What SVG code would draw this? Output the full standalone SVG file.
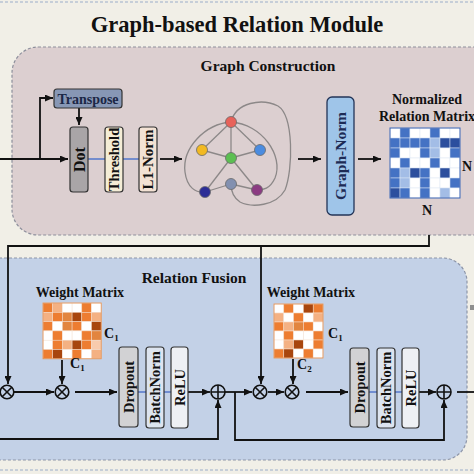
<svg xmlns="http://www.w3.org/2000/svg" width="474" height="474" viewBox="0 0 474 474">
<defs>
<marker id="ar" markerUnits="userSpaceOnUse" markerWidth="8" markerHeight="7" refX="8" refY="3.5" orient="auto"><path d="M0,0 L8,3.5 L0,7 z" fill="#111"/></marker>
<style>
text{font-family:"Liberation Serif","Times New Roman",serif;font-weight:bold;fill:#111}
.ln{stroke:#111;stroke-width:1.8;fill:none}
.la{stroke:#111;stroke-width:1.8;fill:none;marker-end:url(#ar)}
.bl{stroke:#5b7ccc;stroke-width:1.6}
.box{stroke:#333;stroke-width:1.2}
.ge{stroke:#8c8888;stroke-width:1.3;fill:none}
.nd{stroke:#6a6a6a;stroke-width:0.8}
.op{fill:none;stroke:#111;stroke-width:1.6}
.w{fill:#ffffff}.b{fill:#4472c4}.lb{fill:#a3bde6}.db{fill:#2c4f9e}
.o{fill:#ed7d31}.lo{fill:#f4b183}.po{fill:#f8cbad}.do{fill:#a8460e}.mo{fill:#e2853f}
.mb rect{stroke:#dce6f4;stroke-width:0.5}
.mo2 rect{stroke:#f7e2d2;stroke-width:0.5}
</style>
</defs>
<rect x="0" y="0" width="474" height="474" fill="#f1efe7"/>
<line x1="0" y1="2" x2="474" y2="2" stroke="#b8c4d4" stroke-width="1.5" stroke-dasharray="3 2"/>
<line x1="0" y1="470" x2="474" y2="470" stroke="#b8c4d4" stroke-width="1.5" stroke-dasharray="3 2"/>
<rect x="470" y="305" width="4" height="5" fill="#8f8f8f"/>

<text x="237" y="32" font-size="22.5" text-anchor="middle">Graph-based Relation Module</text>

<g id="graph-construction">
<rect x="12" y="47" width="500" height="188" rx="26" fill="#dccfd0" stroke="#8d8f9c" stroke-width="1.2" stroke-dasharray="3 2"/>
<text x="268" y="71" font-size="15.5" text-anchor="middle">Graph Construction</text>
</g>

<g id="relation-fusion">
<rect x="-40" y="258" width="507" height="202" rx="24" fill="#c3d1e7" stroke="#8d95a8" stroke-width="1.2" stroke-dasharray="3 2"/>
<text x="194" y="283" font-size="15.5" text-anchor="middle">Relation Fusion</text>
</g>

<g id="connectors">
<line x1="0" y1="159" x2="68" y2="159" class="la"/>
<polyline points="40,159 40,98 53,98" class="la"/>
<line x1="79" y1="108" x2="79" y2="125" class="la"/>
<line x1="88" y1="159" x2="105" y2="159" class="bl"/>
<line x1="123" y1="159" x2="139" y2="159" class="bl"/>
<line x1="160" y1="159" x2="182" y2="159" class="la"/>
<line x1="298" y1="159" x2="321" y2="159" class="la"/>
<line x1="358" y1="159" x2="381" y2="159" class="la"/>
<polyline points="429,235 429,246 8,246 8,384" class="la"/>
<line x1="261" y1="246" x2="261" y2="384" class="la"/>
<line x1="14" y1="392" x2="54" y2="392" class="la"/>
<line x1="62" y1="360" x2="62" y2="384" class="la"/>
<line x1="75" y1="392" x2="117" y2="392" class="la"/>
<line x1="138" y1="392" x2="146" y2="392" class="bl"/>
<line x1="164" y1="392" x2="171" y2="392" class="bl"/>
<line x1="188" y1="392" x2="210" y2="392" class="la"/>
<polyline points="0,439 218,439 218,400" class="la"/>
<polyline points="225,392 235,392" class="ln"/>
<line x1="235" y1="392" x2="252" y2="392" class="la"/>
<polyline points="235,392 235,440 444,440 444,400" class="la"/>
<line x1="268" y1="392" x2="284" y2="392" class="la"/>
<line x1="293" y1="359" x2="293" y2="384" class="la"/>
<line x1="306" y1="392" x2="348" y2="392" class="la"/>
<line x1="369" y1="392" x2="377" y2="392" class="bl"/>
<line x1="395" y1="392" x2="402" y2="392" class="bl"/>
<line x1="419" y1="392" x2="436" y2="392" class="la"/>
<line x1="457" y1="392" x2="474" y2="392" class="ln"/>
</g>

<g id="transpose">
<rect x="54" y="89" width="68" height="19" rx="3" fill="#8797b5" class="box"/>
<text x="88" y="103.5" font-size="14" text-anchor="middle" style="fill:#1b2746">Transpose</text>
</g>
<g id="dot">
<rect x="70" y="127" width="18" height="65" rx="3" fill="#a9a5a7" class="box"/>
<text transform="translate(79,159.5) rotate(-90)" font-size="16" text-anchor="middle" dy="0.35em">Dot</text>
</g>
<g id="threshold">
<rect x="105" y="127" width="18" height="65" rx="3" fill="#f4edd6" class="box"/>
<text transform="translate(114,159.5) rotate(-90)" font-size="14.5" text-anchor="middle" dy="0.35em">Threshold</text>
</g>
<g id="l1norm">
<rect x="139" y="127" width="18" height="65" rx="3" fill="#f3e2d4" class="box"/>
<text transform="translate(148,159.5) rotate(-90)" font-size="15" text-anchor="middle" dy="0.35em">L1-Norm</text>
</g>

<g id="graph">
<path class="ge" d="M231,122 C205,124 182,148 185,172 C187,188 196,193 205,192"/>
<path class="ge" d="M231,122 C262,124 284,156 275,178 C270,189 263,190 257,190"/>
<path class="ge" d="M231,122 C236,102 262,98 278,106 C294,116 293,170 285,190 C276,206 252,208 240,202 C234,198 231,192 231,184"/>
<line class="ge" x1="231" y1="122" x2="202" y2="150"/>
<line class="ge" x1="231" y1="122" x2="231" y2="158"/>
<line class="ge" x1="231" y1="122" x2="260" y2="150"/>
<line class="ge" x1="202" y1="150" x2="231" y2="158"/>
<line class="ge" x1="231" y1="158" x2="260" y2="150"/>
<line class="ge" x1="231" y1="158" x2="205" y2="192"/>
<line class="ge" x1="231" y1="158" x2="257" y2="190"/>
<line class="ge" x1="205" y1="192" x2="231" y2="184"/>
<line class="ge" x1="231" y1="184" x2="257" y2="190"/>
<circle class="nd" cx="231" cy="122" r="5.5" fill="#e8625a"/>
<circle class="nd" cx="202" cy="150" r="5.5" fill="#f2b922"/>
<circle class="nd" cx="231" cy="158" r="5.5" fill="#5cbf52"/>
<circle class="nd" cx="260" cy="150" r="5.5" fill="#4b8ce0"/>
<circle class="nd" cx="205" cy="192" r="5.5" fill="#2c2d96"/>
<circle class="nd" cx="231" cy="184" r="5.5" fill="#8290b0"/>
<circle class="nd" cx="257" cy="190" r="5.5" fill="#8b3b82"/>
</g>

<g id="graphnorm">
<rect x="327" y="97" width="27" height="118" rx="5" fill="#9fc5e9" stroke="#233457" stroke-width="1.3"/>
<text transform="translate(340.5,156) rotate(-90)" font-size="15.5" text-anchor="middle" dy="0.35em" style="fill:#1d2b55">Graph-Norm</text>
</g>

<g id="relation-matrix">
<text x="427" y="104" font-size="14" text-anchor="middle">Normalized</text>
<text x="427" y="121" font-size="14" text-anchor="middle">Relation Matrix</text>
<g class="mb">
<rect x="390" y="128" width="10" height="10" class="w"/><rect x="400" y="128" width="10" height="10" class="b"/><rect x="410" y="128" width="10" height="10" class="w"/><rect x="420" y="128" width="10" height="10" class="w"/><rect x="430" y="128" width="10" height="10" class="b"/><rect x="440" y="128" width="10" height="10" class="w"/><rect x="450" y="128" width="10" height="10" class="w"/>
<rect x="390" y="138" width="10" height="10" class="b"/><rect x="400" y="138" width="10" height="10" class="b"/><rect x="410" y="138" width="10" height="10" class="b"/><rect x="420" y="138" width="10" height="10" class="b"/><rect x="430" y="138" width="10" height="10" class="lb"/><rect x="440" y="138" width="10" height="10" class="db"/><rect x="450" y="138" width="10" height="10" class="db"/>
<rect x="390" y="148" width="10" height="10" class="b"/><rect x="400" y="148" width="10" height="10" class="w"/><rect x="410" y="148" width="10" height="10" class="w"/><rect x="420" y="148" width="10" height="10" class="b"/><rect x="430" y="148" width="10" height="10" class="lb"/><rect x="440" y="148" width="10" height="10" class="w"/><rect x="450" y="148" width="10" height="10" class="b"/>
<rect x="390" y="158" width="10" height="10" class="w"/><rect x="400" y="158" width="10" height="10" class="b"/><rect x="410" y="158" width="10" height="10" class="w"/><rect x="420" y="158" width="10" height="10" class="w"/><rect x="430" y="158" width="10" height="10" class="b"/><rect x="440" y="158" width="10" height="10" class="w"/><rect x="450" y="158" width="10" height="10" class="w"/>
<rect x="390" y="168" width="10" height="10" class="b"/><rect x="400" y="168" width="10" height="10" class="lb"/><rect x="410" y="168" width="10" height="10" class="db"/><rect x="420" y="168" width="10" height="10" class="b"/><rect x="430" y="168" width="10" height="10" class="w"/><rect x="440" y="168" width="10" height="10" class="db"/><rect x="450" y="168" width="10" height="10" class="w"/>
<rect x="390" y="178" width="10" height="10" class="b"/><rect x="400" y="178" width="10" height="10" class="lb"/><rect x="410" y="178" width="10" height="10" class="w"/><rect x="420" y="178" width="10" height="10" class="b"/><rect x="430" y="178" width="10" height="10" class="w"/><rect x="440" y="178" width="10" height="10" class="w"/><rect x="450" y="178" width="10" height="10" class="b"/>
<rect x="390" y="188" width="10" height="10" class="db"/><rect x="400" y="188" width="10" height="10" class="b"/><rect x="410" y="188" width="10" height="10" class="w"/><rect x="420" y="188" width="10" height="10" class="b"/><rect x="430" y="188" width="10" height="10" class="w"/><rect x="440" y="188" width="10" height="10" class="lb"/><rect x="450" y="188" width="10" height="10" class="w"/>
</g>
<rect x="390" y="128" width="70" height="70" fill="none" stroke="#3a62b0" stroke-width="1"/>
<text x="462" y="171" font-size="14">N</text>
<text x="427" y="215" font-size="14" text-anchor="middle">N</text>
</g>

<g id="weight-matrix-1">
<text x="80" y="297" font-size="14" text-anchor="middle">Weight Matrix</text>
<g class="mo2">
<rect x="43" y="303" width="9.7" height="9.3" class="o"/><rect x="52.7" y="303" width="9.7" height="9.3" class="lo"/><rect x="62.4" y="303" width="9.7" height="9.3" class="w"/><rect x="72.1" y="303" width="9.7" height="9.3" class="w"/><rect x="81.8" y="303" width="9.7" height="9.3" class="o"/><rect x="91.5" y="303" width="9.7" height="9.3" class="w"/>
<rect x="43" y="312.3" width="9.7" height="9.3" class="lo"/><rect x="52.7" y="312.3" width="9.7" height="9.3" class="o"/><rect x="62.4" y="312.3" width="9.7" height="9.3" class="mo"/><rect x="72.1" y="312.3" width="9.7" height="9.3" class="do"/><rect x="81.8" y="312.3" width="9.7" height="9.3" class="o"/><rect x="91.5" y="312.3" width="9.7" height="9.3" class="lo"/>
<rect x="43" y="321.6" width="9.7" height="9.3" class="o"/><rect x="52.7" y="321.6" width="9.7" height="9.3" class="w"/><rect x="62.4" y="321.6" width="9.7" height="9.3" class="mo"/><rect x="72.1" y="321.6" width="9.7" height="9.3" class="o"/><rect x="81.8" y="321.6" width="9.7" height="9.3" class="w"/><rect x="91.5" y="321.6" width="9.7" height="9.3" class="do"/>
<rect x="43" y="330.9" width="9.7" height="9.3" class="w"/><rect x="52.7" y="330.9" width="9.7" height="9.3" class="o"/><rect x="62.4" y="330.9" width="9.7" height="9.3" class="w"/><rect x="72.1" y="330.9" width="9.7" height="9.3" class="w"/><rect x="81.8" y="330.9" width="9.7" height="9.3" class="o"/><rect x="91.5" y="330.9" width="9.7" height="9.3" class="mo"/>
<rect x="43" y="340.2" width="9.7" height="9.3" class="w"/><rect x="52.7" y="340.2" width="9.7" height="9.3" class="o"/><rect x="62.4" y="340.2" width="9.7" height="9.3" class="lo"/><rect x="72.1" y="340.2" width="9.7" height="9.3" class="do"/><rect x="81.8" y="340.2" width="9.7" height="9.3" class="o"/><rect x="91.5" y="340.2" width="9.7" height="9.3" class="po"/>
<rect x="43" y="349.5" width="9.7" height="9.3" class="o"/><rect x="52.7" y="349.5" width="9.7" height="9.3" class="do"/><rect x="62.4" y="349.5" width="9.7" height="9.3" class="w"/><rect x="72.1" y="349.5" width="9.7" height="9.3" class="o"/><rect x="81.8" y="349.5" width="9.7" height="9.3" class="w"/><rect x="91.5" y="349.5" width="9.7" height="9.3" class="lo"/>
</g>
<rect x="43" y="303" width="58.2" height="55.8" fill="none" stroke="#e08a4a" stroke-width="0.8"/>
<text x="104" y="338" font-size="14">C<tspan font-size="9" dy="3">1</tspan></text>
<text x="70" y="368" font-size="14">C<tspan font-size="9" dy="3">1</tspan></text>
</g>

<g id="weight-matrix-2">
<text x="311" y="297" font-size="14" text-anchor="middle">Weight Matrix</text>
<g class="mo2">
<rect x="274" y="304" width="9.8" height="9" class="w"/><rect x="283.8" y="304" width="9.8" height="9" class="o"/><rect x="293.6" y="304" width="9.8" height="9" class="w"/><rect x="303.4" y="304" width="9.8" height="9" class="do"/><rect x="313.2" y="304" width="9.8" height="9" class="o"/>
<rect x="274" y="313" width="9.8" height="9" class="lo"/><rect x="283.8" y="313" width="9.8" height="9" class="w"/><rect x="293.6" y="313" width="9.8" height="9" class="o"/><rect x="303.4" y="313" width="9.8" height="9" class="w"/><rect x="313.2" y="313" width="9.8" height="9" class="lo"/>
<rect x="274" y="322" width="9.8" height="9" class="o"/><rect x="283.8" y="322" width="9.8" height="9" class="lo"/><rect x="293.6" y="322" width="9.8" height="9" class="mo"/><rect x="303.4" y="322" width="9.8" height="9" class="o"/><rect x="313.2" y="322" width="9.8" height="9" class="w"/>
<rect x="274" y="331" width="9.8" height="9" class="w"/><rect x="283.8" y="331" width="9.8" height="9" class="o"/><rect x="293.6" y="331" width="9.8" height="9" class="w"/><rect x="303.4" y="331" width="9.8" height="9" class="w"/><rect x="313.2" y="331" width="9.8" height="9" class="o"/>
<rect x="274" y="340" width="9.8" height="9" class="w"/><rect x="283.8" y="340" width="9.8" height="9" class="lo"/><rect x="293.6" y="340" width="9.8" height="9" class="do"/><rect x="303.4" y="340" width="9.8" height="9" class="w"/><rect x="313.2" y="340" width="9.8" height="9" class="o"/>
<rect x="274" y="349" width="9.8" height="9" class="o"/><rect x="283.8" y="349" width="9.8" height="9" class="do"/><rect x="293.6" y="349" width="9.8" height="9" class="w"/><rect x="303.4" y="349" width="9.8" height="9" class="o"/><rect x="313.2" y="349" width="9.8" height="9" class="w"/>
</g>
<rect x="274" y="304" width="49" height="54" fill="none" stroke="#e08a4a" stroke-width="0.8"/>
<text x="328" y="338" font-size="14">C<tspan font-size="9" dy="3">1</tspan></text>
<text x="297" y="369" font-size="14">C<tspan font-size="9" dy="3">2</tspan></text>
</g>

<g id="mult-1"><circle cx="7" cy="392" r="6.8" class="op"/><path d="M2.2,387.2 L11.8,396.8 M11.8,387.2 L2.2,396.8" class="op"/></g>
<g id="mult-2"><circle cx="62" cy="392" r="6.8" class="op"/><path d="M57.2,387.2 L66.8,396.8 M66.8,387.2 L57.2,396.8" class="op"/></g>
<g id="mult-3"><circle cx="260" cy="392" r="6.8" class="op"/><path d="M255.2,387.2 L264.8,396.8 M264.8,387.2 L255.2,396.8" class="op"/></g>
<g id="mult-4"><circle cx="292" cy="392" r="6.8" class="op"/><path d="M287.2,387.2 L296.8,396.8 M296.8,387.2 L287.2,396.8" class="op"/></g>
<g id="add-1"><circle cx="218" cy="392" r="7" class="op"/><path d="M211,392 L225,392 M218,385 L218,399" class="op"/></g>
<g id="add-2"><circle cx="444" cy="392" r="7" class="op"/><path d="M437,392 L451,392 M444,385 L444,399" class="op"/></g>

<g id="dropout-1">
<rect x="119" y="347" width="19" height="80" rx="3" fill="#d2d2d4" class="box"/>
<text transform="translate(128.5,387) rotate(-90)" font-size="14.5" text-anchor="middle" dy="0.35em">Dropout</text>
</g>
<g id="batchnorm-1">
<rect x="146" y="347" width="18" height="81" rx="3" fill="#dde4ef" class="box"/>
<text transform="translate(155,387.5) rotate(-90)" font-size="14.5" text-anchor="middle" dy="0.35em">BatchNorm</text>
</g>
<g id="relu-1">
<rect x="171" y="347" width="17" height="81" rx="3" fill="#eef0f4" class="box"/>
<text transform="translate(179.5,387.5) rotate(-90)" font-size="14.5" text-anchor="middle" dy="0.35em">ReLU</text>
</g>
<g id="dropout-2">
<rect x="350" y="348" width="19" height="79" rx="3" fill="#d2d2d4" class="box"/>
<text transform="translate(359.5,387.5) rotate(-90)" font-size="14.5" text-anchor="middle" dy="0.35em">Dropout</text>
</g>
<g id="batchnorm-2">
<rect x="377" y="348" width="18" height="80" rx="3" fill="#dde4ef" class="box"/>
<text transform="translate(386,388) rotate(-90)" font-size="14.5" text-anchor="middle" dy="0.35em">BatchNorm</text>
</g>
<g id="relu-2">
<rect x="402" y="348" width="17" height="80" rx="3" fill="#eef0f4" class="box"/>
<text transform="translate(410.5,388) rotate(-90)" font-size="14.5" text-anchor="middle" dy="0.35em">ReLU</text>
</g>
</svg>
